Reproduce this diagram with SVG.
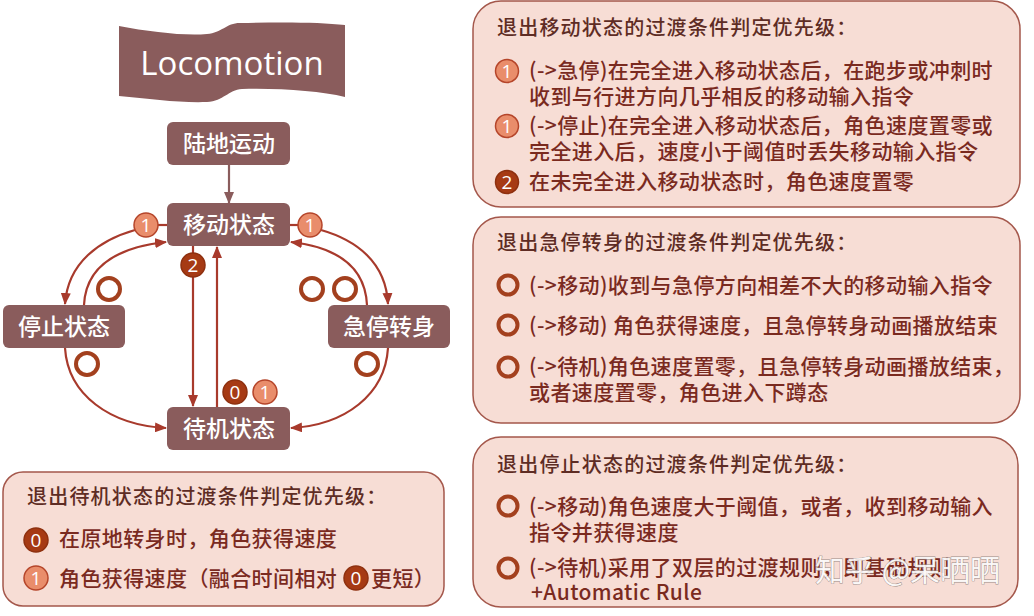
<svg xmlns="http://www.w3.org/2000/svg" width="1034" height="616" viewBox="0 0 1034 616">
<defs>
<style>
.bg{fill:#ffffff}
.node rect{fill:#8A5C5C}
.ntxt{font-family:"Noto Sans CJK SC","Noto Sans",sans-serif;font-size:23px;font-weight:500;fill:#ffffff;text-anchor:middle}
.conn{fill:none;stroke:#A83A2C;stroke-width:2.2}
.gconn{fill:none;stroke:#8A5C5C;stroke-width:2.2}
.bl{fill:#E98D6B;stroke:#B5452A;stroke-width:1.5}
.bd{fill:#A63A14;stroke:#8E300F;stroke-width:1.5}
.btxt{font-family:"Open Sans","Noto Sans",sans-serif;font-size:19px;fill:#ffffff;text-anchor:middle}
.ring{fill:none;stroke:#A3401E;stroke-width:4}
.box{fill:#F7DDD5;stroke:#A4574B;stroke-width:1.5}
.title{font-family:"Noto Sans CJK SC",sans-serif;font-size:20px;font-weight:500;letter-spacing:1.2px;fill:#5E2C24}
.item{font-family:"Noto Sans CJK SC",sans-serif;font-size:21px;font-weight:500;letter-spacing:0.4px;fill:#7A2A1F}
.wm{font-family:"Noto Sans CJK SC",sans-serif;font-size:30px;fill:#ffffff;fill-opacity:0.9;stroke:#9a8a86;stroke-width:0.8;paint-order:stroke}
</style>
<marker id="ah" viewBox="0 0 12 10" refX="11" refY="5" markerWidth="12" markerHeight="10" markerUnits="userSpaceOnUse" orient="auto">
<path d="M0,0 L12,5 L0,10 Z" fill="#A83A2C"/>
</marker>
<marker id="ahg" viewBox="0 0 12 10" refX="11" refY="5" markerWidth="12" markerHeight="10" markerUnits="userSpaceOnUse" orient="auto">
<path d="M0,0 L12,5 L0,10 Z" fill="#8A5C5C"/>
</marker>
</defs>
<rect class="bg" x="0" y="0" width="1034" height="616"/>

<g id="banner">
<path d="M119,26 C150,32 185,36 207,34 C222,33 226,23 240,23 C280,22 320,22 345,25 L345,97 C320,91 280,88 242,89 C228,90 224,101 207,102 C180,103 150,99 119,96 Z" fill="#8A5C5C"/>
<text x="232" y="75" font-family="Open Sans, Noto Sans, sans-serif" font-size="33" fill="#ffffff" text-anchor="middle">Locomotion</text>
</g>

<g id="connectors">
<path class="gconn" d="M229,165 L229,203" marker-end="url(#ahg)"/>
<path class="conn" d="M157,225 L168,225"/>
<path class="conn" d="M290,225 L300,225"/>
<path class="conn" d="M135,230 C100,240 68,262 65,304" marker-end="url(#ah)"/>
<path class="conn" d="M84,305 C86,265 120,247 166,242" marker-end="url(#ah)"/>
<path class="conn" d="M321,230 C356,240 386,262 388,304" marker-end="url(#ah)"/>
<path class="conn" d="M367,305 C365,265 335,247 291,242" marker-end="url(#ah)"/>
<path class="conn" d="M193,246 L193,254"/>
<path class="conn" d="M193,277 L193,406" marker-end="url(#ah)"/>
<path class="conn" d="M217,407 L217,247" marker-end="url(#ah)"/>
<path class="conn" d="M65,348 C68,395 110,425 166,428" marker-end="url(#ah)"/>
<path class="conn" d="M388,348 C385,395 345,425 291,428" marker-end="url(#ah)"/>
</g>

<g id="node-land" class="node">
<rect x="167" y="122" width="123" height="43" rx="6"/>
<text class="ntxt" x="229" y="152">陆地运动</text>
</g>
<g id="node-move" class="node">
<rect x="167" y="203" width="123" height="43" rx="6"/>
<text class="ntxt" x="229" y="233">移动状态</text>
</g>
<g id="node-stop" class="node">
<rect x="3" y="305" width="122" height="43" rx="6"/>
<text class="ntxt" x="64" y="335">停止状态</text>
</g>
<g id="node-pivot" class="node">
<rect x="328" y="305" width="122" height="43" rx="6"/>
<text class="ntxt" x="389" y="335">急停转身</text>
</g>
<g id="node-idle" class="node">
<rect x="167" y="407" width="123" height="43" rx="6"/>
<text class="ntxt" x="229" y="437">待机状态</text>
</g>

<g id="labels">
<circle class="bl" cx="146" cy="225" r="12"/><text class="btxt" x="146" y="232">1</text>
<circle class="bl" cx="310" cy="225" r="12"/><text class="btxt" x="310" y="232">1</text>
<circle class="bd" cx="193" cy="265" r="12"/><text class="btxt" x="193" y="272">2</text>
<circle class="bd" cx="235" cy="392" r="12"/><text class="btxt" x="235" y="399">0</text>
<circle class="bl" cx="265" cy="392" r="12"/><text class="btxt" x="265" y="399">1</text>
<circle class="ring" cx="109" cy="289" r="11"/>
<circle class="ring" cx="312" cy="289" r="11"/>
<circle class="ring" cx="345" cy="289" r="11"/>
<circle class="ring" cx="87" cy="364" r="11"/>
<circle class="ring" cx="367" cy="364" r="11"/>
</g>

<g id="box-idle">
<rect class="box" x="3" y="472" width="441" height="134" rx="20"/>
<text class="title" x="27" y="504">退出待机状态的过渡条件判定优先级：</text>
<circle class="bd" cx="36" cy="540" r="12"/><text class="btxt" x="36" y="547">0</text>
<text class="item" x="59" y="546">在原地转身时，角色获得速度</text>
<circle class="bl" cx="36" cy="578" r="12"/><text class="btxt" x="36" y="585">1</text>
<text class="item" x="59" y="586">角色获得速度（融合时间相对</text>
<circle class="bd" cx="356" cy="578" r="12"/><text class="btxt" x="356" y="585">0</text>
<text class="item" x="371" y="586">更短）</text>
</g>

<g id="box-move">
<rect class="box" x="473" y="1" width="547" height="206" rx="28"/>
<text class="title" x="497" y="35">退出移动状态的过渡条件判定优先级：</text>
<circle class="bl" cx="507" cy="71" r="11.5"/><text class="btxt" x="507" y="78">1</text>
<text class="item" x="529" y="78">(-&gt;急停)在完全进入移动状态后，在跑步或冲刺时</text>
<text class="item" x="529" y="104">收到与行进方向几乎相反的移动输入指令</text>
<circle class="bl" cx="507" cy="126" r="11.5"/><text class="btxt" x="507" y="133">1</text>
<text class="item" x="529" y="133">(-&gt;停止)在完全进入移动状态后，角色速度置零或</text>
<text class="item" x="529" y="159">完全进入后，速度小于阈值时丢失移动输入指令</text>
<circle class="bd" cx="507" cy="182" r="11.5"/><text class="btxt" x="507" y="189">2</text>
<text class="item" x="529" y="189">在未完全进入移动状态时，角色速度置零</text>
</g>

<g id="box-pivot">
<rect class="box" x="473" y="217" width="547" height="206" rx="28"/>
<text class="title" x="497" y="250">退出急停转身的过渡条件判定优先级：</text>
<circle class="ring" cx="508" cy="285" r="9.5"/>
<text class="item" x="529" y="293">(-&gt;移动)收到与急停方向相差不大的移动输入指令</text>
<circle class="ring" cx="508" cy="325" r="9.5"/>
<text class="item" x="529" y="333">(-&gt;移动) 角色获得速度，且急停转身动画播放结束</text>
<circle class="ring" cx="508" cy="367" r="9.5"/>
<text class="item" x="529" y="374">(-&gt;待机)角色速度置零，且急停转身动画播放结束，</text>
<text class="item" x="529" y="400">或者速度置零，角色进入下蹲态</text>
</g>

<g id="box-stop">
<rect class="box" x="473" y="437" width="545" height="170" rx="28"/>
<text class="title" x="497" y="472">退出停止状态的过渡条件判定优先级：</text>
<circle class="ring" cx="508" cy="506" r="9.5"/>
<text class="item" x="529" y="514">(-&gt;移动)角色速度大于阈值，或者，收到移动输入</text>
<text class="item" x="529" y="540">指令并获得速度</text>
<circle class="ring" cx="508" cy="568" r="9.5"/>
<text class="item" x="529" y="575">(-&gt;待机)采用了双层的过渡规则，即基础规则</text>
<text class="item" x="531" y="600">+Automatic Rule</text>
</g>

<text class="wm" x="815" y="581">知乎 @呆晒晒</text>
</svg>
